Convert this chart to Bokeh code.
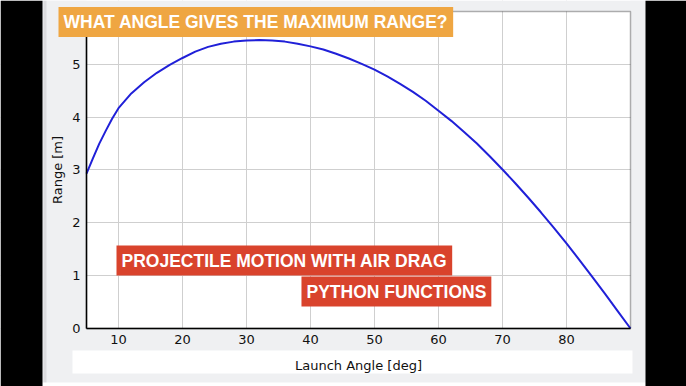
from bokeh.plotting import figure
from bokeh.models import Range1d, Label, FixedTicker, BoxAnnotation
from bokeh.embed import file_html
from bokeh.resources import INLINE

angles = [5, 6, 7, 8, 9, 10, 12, 14, 16, 18, 20, 22, 24, 26, 28, 30, 32, 34, 36, 38,
          40, 42, 44, 46, 48, 50, 52, 54, 56, 58, 60, 62, 64, 66, 68, 70, 72, 74, 76,
          78, 80, 82, 84, 86, 88, 90]
ranges_m = [2.93, 3.22, 3.50, 3.74, 3.97, 4.17, 4.45, 4.66, 4.84, 4.99, 5.12, 5.24,
            5.33, 5.39, 5.43, 5.45, 5.46, 5.45, 5.43, 5.39, 5.34, 5.28, 5.20, 5.11,
            5.01, 4.90, 4.77, 4.63, 4.48, 4.31, 4.12, 3.93, 3.72, 3.50, 3.26, 3.01,
            2.75, 2.48, 2.20, 1.91, 1.61, 1.30, 0.98, 0.66, 0.33, 0.0]
x_ticks = [10, 20, 30, 40, 50, 60, 70, 80]
y_ticks = [0, 1, 2, 3, 4, 5]
x_min, x_max = 5, 90
y_min, y_max = 0, 6

title_text = "WHAT ANGLE GIVES THE MAXIMUM RANGE?"
banner1_text = "PROJECTILE MOTION WITH AIR DRAG"
banner2_text = "PYTHON FUNCTIONS"

GRAY = "#eff0f2"

# the frame covers the whole figure; axes are pinned at x=5 and y=0
p = figure(width=686, height=386, output_backend="svg", toolbar_location=None,
           x_range=Range1d(-8.4375, 98.75), y_range=Range1d(-1.0978, 6.2082),
           min_border=0)
p.border_fill_color = GRAY
p.background_fill_color = "white"
p.outline_line_color = None

p.xgrid.grid_line_color = "#cfcfcf"
p.ygrid.grid_line_color = "#cfcfcf"
p.xgrid.ticker = FixedTicker(ticks=x_ticks)
p.ygrid.ticker = FixedTicker(ticks=y_ticks)

def box(color, **kw):
    p.add_layout(BoxAnnotation(fill_color=color, fill_alpha=1.0, line_alpha=0,
                               level="underlay", **kw))

# gray surroundings of the plot area
for kw in (dict(right=x_min), dict(left=x_max), dict(bottom=y_max), dict(top=y_min)):
    box(GRAY, **kw)
# thin frame strip at the left, white strips behind the x-axis title and at the bottom
box("#dcdcdf", left=-1.72, right=-1.25)
box("white", left=2.81, right=90.31, bottom=-0.852, top=-0.416)
box("white", top=-1.022)
# black side bands of the video frame
box("black", right=-1.875)
box("black", left=92.344)

p.line(angles, ranges_m, line_color="#2020d8", line_width=2)

for ax in (p.xaxis[0], p.yaxis[0]):
    ax.major_tick_line_color = None
    ax.minor_tick_line_color = None
    ax.major_tick_out = 0
    ax.major_tick_in = 0
    ax.minor_tick_out = 0
    ax.minor_tick_in = 0
    ax.axis_line_color = "black"
    ax.axis_line_width = 1.5
    ax.major_label_text_font = "DejaVu Sans"
    ax.major_label_text_font_size = "13px"
    ax.major_label_text_color = "#111111"
    ax.axis_label_text_font = "DejaVu Sans"
    ax.axis_label_text_font_size = "13px"
    ax.axis_label_text_font_style = "normal"
    ax.axis_label_text_color = "#111111"

p.xaxis.ticker = FixedTicker(ticks=x_ticks)
p.yaxis.ticker = FixedTicker(ticks=y_ticks)
p.xaxis.bounds = (x_min, x_max)
p.yaxis.bounds = (y_min, y_max)
p.xaxis.fixed_location = y_min
p.yaxis.fixed_location = x_min
p.xaxis.axis_label = "Launch Angle [deg]"
p.yaxis.axis_label = "Range [m]"
p.xaxis.major_label_standoff = 7
p.xaxis.axis_label_standoff = 10
p.yaxis.major_label_standoff = 6
p.yaxis.axis_label_standoff = 4

# black border of the plot area
p.add_layout(BoxAnnotation(left=x_min, right=x_max, bottom=y_min, top=y_max,
                           fill_alpha=0, line_color="black", line_width=1.5))

def banner(x, y, txt, color):
    return Label(x=x, y=y, text=txt, text_font="Liberation Sans",
                 text_font_style="bold", text_font_size="17.5px",
                 text_color="white", text_align="left", text_baseline="middle",
                 background_fill_color=color, background_fill_alpha=1.0,
                 padding=5)

p.add_layout(banner(0.625, 5.801, title_text, "#efa642"))
p.add_layout(banner(9.6875, 1.287, banner1_text, "#d9432c"))
p.add_layout(banner(38.59, 0.70, banner2_text, "#d9432c"))

open("out.html", "w").write(file_html(p, INLINE))
